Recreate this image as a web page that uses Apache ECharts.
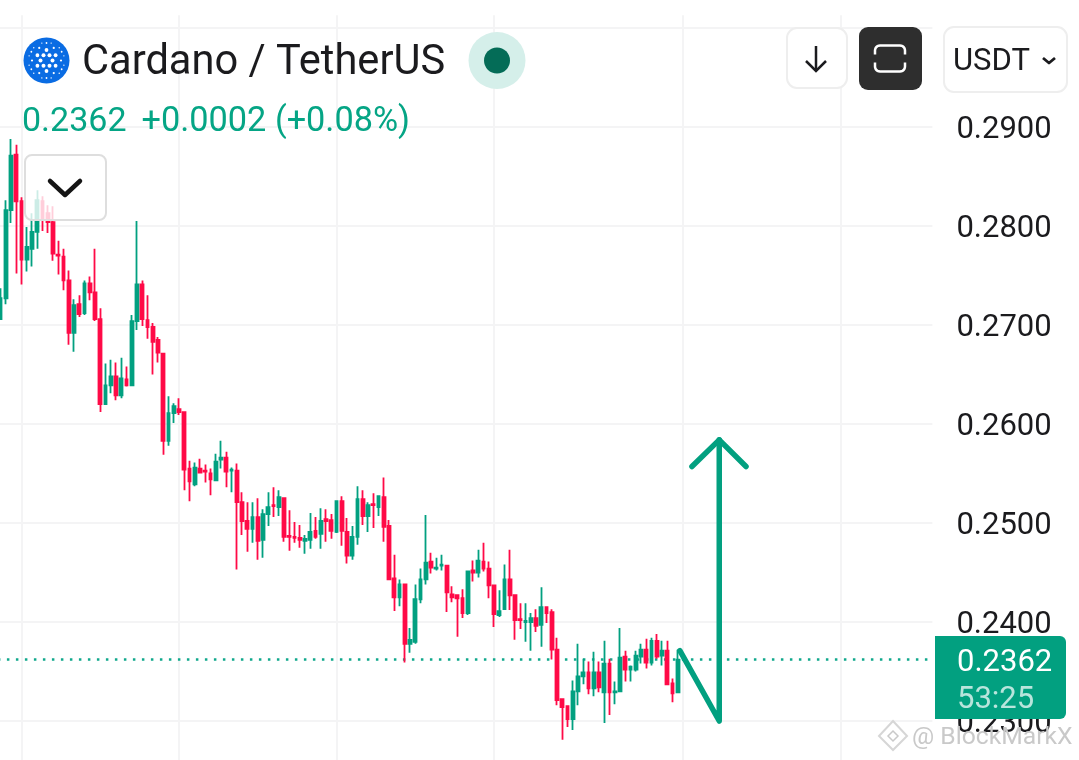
<!DOCTYPE html>
<html><head><meta charset="utf-8">
<style>html,body{margin:0;padding:0;background:#fff}#c{width:1079px;height:760px}</style>
<script src="https://cdn.jsdelivr.net/npm/echarts@6/dist/echarts.min.js"></script>
</head><body><div id="c"></div>
<script>
// Candle values in ten-thousandths of a USDT
const opens=[2706,2727,2816,2872,2825,2766,2777,2794,2825,2813,2804,2771,2769,2745,2692,2721,2712,2742,2733,2706,2620,2639,2648,2629,2645,2639,2704,2741,2705,2698,2685,2671,2583,2611,2615,2612,2555,2539,2555,2553,2550,2543,2564,2566,2553,2553,2521,2502,2494,2506,2483,2509,2518,2516,2525,2487,2486,2485,2482,2483,2492,2489,2504,2503,2491,2522,2491,2467,2486,2524,2507,2519,2516,2526,2497,2444,2425,2438,2378,2380,2423,2443,2461,2454,2457,2457,2428,2427,2424,2409,2452,2450,2461,2454,2437,2407,2413,2443,2427,2403,2400,2400,2404,2397,2415,2410,2372,2322,2315,2302,2330,2345,2349,2333,2349,2329,2358,2329,2330,2365,2352,2352,2365,2372,2359,2381,2366,2371,2338,2329];
const closes=[2727,2816,2871,2825,2766,2779,2794,2826,2806,2804,2772,2770,2745,2692,2720,2711,2742,2733,2706,2620,2639,2648,2629,2646,2639,2704,2741,2706,2698,2683,2672,2583,2611,2618,2612,2554,2542,2556,2551,2552,2544,2562,2566,2552,2554,2521,2502,2494,2506,2482,2509,2516,2517,2526,2486,2486,2485,2483,2484,2491,2486,2502,2502,2492,2522,2492,2467,2486,2524,2507,2518,2518,2527,2496,2443,2425,2438,2378,2382,2423,2443,2460,2455,2455,2458,2430,2425,2424,2409,2451,2450,2462,2454,2437,2408,2411,2443,2427,2402,2402,2401,2404,2396,2415,2409,2372,2321,2314,2302,2330,2345,2349,2333,2349,2334,2358,2329,2330,2364,2352,2355,2366,2372,2359,2381,2365,2371,2337,2328,2362];
const lows=[2705,2721,2803,2752,2741,2754,2759,2777,2795,2793,2765,2751,2735,2680,2673,2708,2710,2725,2704,2612,2620,2631,2624,2626,2638,2639,2695,2699,2686,2650,2662,2569,2578,2601,2609,2533,2522,2537,2550,2541,2528,2543,2555,2536,2531,2453,2488,2471,2480,2463,2465,2497,2506,2507,2481,2472,2480,2475,2469,2474,2484,2474,2481,2484,2490,2477,2459,2463,2478,2498,2491,2495,2507,2481,2443,2411,2416,2359,2369,2378,2419,2438,2449,2452,2452,2410,2420,2385,2404,2407,2441,2445,2451,2424,2395,2405,2413,2412,2382,2393,2380,2371,2390,2375,2399,2362,2316,2281,2294,2291,2316,2337,2327,2325,2329,2298,2306,2317,2329,2340,2340,2350,2358,2353,2356,2363,2356,2336,2319,2329];
const highs=[2737,2826,2888,2882,2829,2799,2813,2836,2830,2821,2820,2785,2777,2755,2726,2730,2745,2749,2777,2717,2661,2665,2662,2667,2658,2710,2805,2745,2730,2702,2688,2672,2628,2621,2626,2613,2563,2561,2565,2559,2555,2570,2583,2572,2556,2560,2531,2521,2521,2525,2514,2531,2536,2533,2525,2513,2501,2498,2488,2510,2506,2515,2514,2509,2523,2527,2505,2497,2537,2533,2521,2530,2528,2546,2503,2468,2443,2438,2394,2438,2454,2508,2470,2465,2468,2457,2436,2427,2433,2451,2462,2473,2480,2461,2437,2432,2458,2473,2427,2419,2419,2409,2413,2435,2416,2413,2384,2322,2315,2341,2378,2363,2360,2370,2360,2381,2363,2340,2394,2371,2356,2371,2378,2383,2384,2388,2381,2381,2343,2372];
const slotCount=178;
const dayStartSlots=[4,34,64,94,130,160];
const priceTicks=[0.29,0.28,0.27,0.26,0.25,0.24,0.23];
const lastPrice=0.2362;
const arrowStem=[[129.4,0.2371],[136.9,0.2300],[136.9,0.2584]];
const arrowHead=[[131.7,0.2557],[136.9,0.2584],[142,0.2557]];
const UP='#02A080',DOWN='#FF0A47',TXT='#1B1B1E',GRID='#F4F4F5',FONT='Roboto, sans-serif';

const candles=opens.map((o,i)=>[o/1e4,closes[i]/1e4,lows[i]/1e4,highs[i]/1e4]);
const cats=Array.from({length:slotCount},(_,i)=>String(i));
const gridLines=dayStartSlots.map(s=>[{xAxis:s,yAxis:0.3013},{xAxis:s,yAxis:0.226}]);

const g=[];
const T=(text,x,y,size,fill,extra)=>g.push(Object.assign({type:'text',z:100,x,y,style:{text,fill,font:`${size}px ${FONT}`,textVerticalAlign:'middle',textAlign:'left'}},extra||{}));
// Logo
g.push({type:'circle',z:100,shape:{cx:46.5,cy:60.5,r:23},style:{fill:'#0A6CE3'}});
[[0,6,2,6],[30,10.5,1.9,6],[0,14.5,1.1,6],[30,17.5,.9,6],[15,18,.7,12]].forEach(([a0,r,d,n])=>{
  for(let k=0;k<n;k++){const a=(a0+k*360/n)*Math.PI/180;
    g.push({type:'circle',z:101,shape:{cx:46.5+r*Math.cos(a),cy:60.5+r*Math.sin(a),r:d},style:{fill:'#fff'}});}
});
T('Cardano / TetherUS',82,63.5,41.6,TXT);
g.push({type:'circle',z:100,shape:{cx:497,cy:60.5,r:28.5},style:{fill:'#D5EFEA'}});
g.push({type:'circle',z:100,shape:{cx:497,cy:60.5,r:13},style:{fill:'#046C57'}});
T('0.2362',22,122,34,'#05A585');
T('+0.0002 (+0.08%)',141.5,122,34.3,'#05A585');
// Collapse button
g.push({type:'rect',z:100,shape:{x:25,y:155,width:81,height:65,r:7},style:{fill:'rgba(255,255,255,0.8)',stroke:'#DEDEDE',lineWidth:2}});
g.push({type:'polyline',z:101,shape:{points:[[50,181],[65,195],[80,181]]},style:{stroke:'#151515',lineWidth:4.5,fill:null,lineCap:'round',lineJoin:'round'}});
// Toolbar
g.push({type:'rect',z:100,shape:{x:787,y:28,width:60,height:60,r:10},style:{fill:'#fff',stroke:'#EEEEEE',lineWidth:2}});
g.push({type:'polyline',z:101,shape:{points:[[816,46],[816,71]]},style:{stroke:TXT,lineWidth:2.5,fill:null}});
g.push({type:'polyline',z:101,shape:{points:[[806,61],[816,71],[826,61]]},style:{stroke:TXT,lineWidth:2.5,fill:null}});
g.push({type:'rect',z:100,shape:{x:859,y:27,width:63,height:63,r:9},style:{fill:'#2E2E2E'}});
// Focus icon: two rounded brackets
const bracket=(y0,dir)=>{const pts=[[875,y0+dir*9]];
  for(let a=180;a<=270;a+=15){const r=a*Math.PI/180;pts.push([880+5*Math.cos(r),y0+dir*5+dir*5*Math.sin(r)]);}
  for(let a=270;a<=360;a+=15){const r=a*Math.PI/180;pts.push([900+5*Math.cos(r),y0+dir*5+dir*5*Math.sin(r)]);}
  pts.push([905,y0+dir*9]);return pts;};
g.push({type:'polyline',z:101,shape:{points:bracket(45.5,1)},style:{stroke:'#fff',lineWidth:2.5,fill:null}});
g.push({type:'polyline',z:101,shape:{points:bracket(71.5,-1)},style:{stroke:'#fff',lineWidth:2.5,fill:null}});
g.push({type:'rect',z:100,shape:{x:944,y:27,width:123,height:65,r:10},style:{fill:'#fff',stroke:'#EEEEEE',lineWidth:2}});
T('USDT',953,62,31,TXT);
g.push({type:'polyline',z:101,shape:{points:[[1043,58],[1049,63],[1055,58]]},style:{stroke:TXT,lineWidth:2.8,fill:null,lineJoin:'round'}});
// Last price tag
g.push({type:'rect',z:100,shape:{x:935,y:636,width:131,height:83,r:[0,6,6,0]},style:{fill:UP}});
T('0.2362',957,663,31,'#fff');
T('53:25',957,700,31,'rgba(255,255,255,0.72)');
// Watermark
const wm='#C9C9C9';
g.push({type:'polygon',z:102,shape:{points:[[893,721],[907,736],[893,750],[879,736]]},style:{fill:'rgba(255,255,255,.7)',stroke:'#D6D6D6',lineWidth:2}});
g.push({type:'polygon',z:103,shape:{points:[[893,731],[898,736],[893,741],[888,736]]},style:{fill:'#fff',stroke:wm,lineWidth:1.5}});
T('@ BlockMarkX',912,738,24.7,wm,{});

const chart=echarts.init(document.getElementById('c'),null,{renderer:'canvas'});
chart.setOption({
  animation:false,
  backgroundColor:'#fff',
  graphic:{elements:g},
  grid:{left:-2.1,top:-71,width:5.25*slotCount,height:891,outerBoundsMode:'none',containLabel:false},
  xAxis:[
    {type:'category',data:cats,boundaryGap:true,axisLine:{show:false},axisTick:{show:false},axisLabel:{show:false},splitLine:{show:false}},
    {type:'value',show:false,min:-0.5,max:slotCount-0.5,splitLine:{show:false}}
  ],
  yAxis:{type:'value',position:'right',min:0.22,max:0.31,interval:0.01,
    axisLine:{show:false},axisTick:{show:false},
    splitLine:{show:true,lineStyle:{color:GRID,width:2}},
    axisLabel:{margin:24,color:TXT,fontFamily:'Roboto',fontSize:31,verticalAlign:'top',lineHeight:6,
      formatter:v=>priceTicks.some(t=>Math.abs(t-v)<1e-6)?v.toFixed(4):''}},
  series:[
    {name:'grid',type:'line',data:[],z:1,silent:true,
      markLine:{silent:true,symbol:'none',animation:false,precision:4,label:{show:false},
        lineStyle:{color:GRID,width:2,type:'solid'},data:gridLines}},
    {name:'last',type:'line',data:[],z:1,silent:true,
      markLine:{silent:true,symbol:'none',animation:false,precision:4,label:{show:false},
        lineStyle:{color:'#10A88C',width:2.5,type:[2.5,6.5]},data:[{yAxis:lastPrice}]}},
    {name:'ADA/USDT',type:'candlestick',data:candles,z:5,barWidth:3.4,
      itemStyle:{color:UP,color0:DOWN,borderColor:UP,borderColor0:DOWN,borderWidth:1.8}},
    {name:'stem',type:'line',xAxisIndex:1,data:arrowStem,z:6,showSymbol:false,silent:true,
      lineStyle:{color:UP,width:5.5,cap:'round',join:'round'}},
    {name:'head',type:'line',xAxisIndex:1,data:arrowHead,z:6,showSymbol:false,silent:true,
      lineStyle:{color:UP,width:5.5,cap:'round',join:'round'}}
  ]
});
</script></body></html>
